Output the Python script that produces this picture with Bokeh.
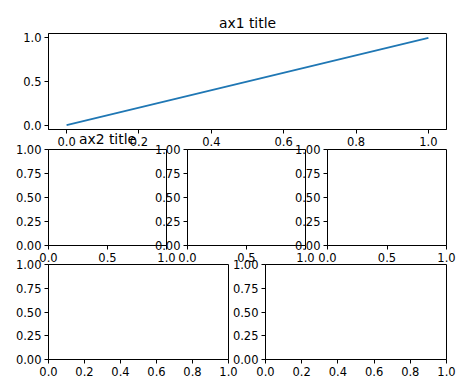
from bokeh.plotting import figure
from bokeh.models import Range1d, FixedTicker, PrintfTickFormatter, Title
from bokeh.layouts import column
from bokeh.embed import file_html
from bokeh.resources import INLINE

# ---- data ----
line_x = [0.0, 1.0]
line_y = [0.0, 1.0]
ax1_xticks = [0.0, 0.2, 0.4, 0.6, 0.8, 1.0]
ax1_yticks = [0.0, 0.5, 1.0]
small_xticks = [0.0, 0.5, 1.0]
wide_xticks = [0.0, 0.2, 0.4, 0.6, 0.8, 1.0]
unit_yticks = [0.0, 0.25, 0.5, 0.75, 1.0]
titles = ["ax1 title", "ax2 title"]

W, H = 466, 383
FONT = "DejaVu Sans"
TICK_SIZE = "11.5px"
TITLE_SIZE = "13.9px"


def make_fig(left, right, top, bottom, xr, yr, xticks, yticks, xfmt, yfmt, title=None):
    p = figure(width=W, height=H, output_backend="svg", toolbar_location=None,
               x_range=Range1d(*xr), y_range=Range1d(*yr),
               min_border_left=left, min_border_right=right,
               min_border_top=top, min_border_bottom=bottom,
               frame_align=False)
    p.background_fill_alpha = 0
    p.border_fill_alpha = 0
    p.outline_line_color = "black"
    p.outline_line_width = 1
    p.outline_line_alpha = 1
    p.xgrid.visible = False
    p.ygrid.visible = False
    p.xaxis.ticker = FixedTicker(ticks=xticks)
    p.yaxis.ticker = FixedTicker(ticks=yticks)
    p.xaxis.formatter = PrintfTickFormatter(format=xfmt)
    p.yaxis.formatter = PrintfTickFormatter(format=yfmt)
    for ax in p.axis:
        ax.axis_line_color = "black"
        ax.axis_line_width = 1
        ax.major_tick_line_color = "black"
        ax.major_tick_line_width = 1
        ax.major_tick_out = 4
        ax.major_tick_in = 0
        ax.minor_tick_line_color = None
        ax.major_label_text_font = FONT
        ax.major_label_text_font_size = TICK_SIZE
        ax.major_label_text_color = "black"
        ax.major_label_standoff = 3
    if title is not None:
        p.title = Title(text=title, align="center", text_font=FONT,
                        text_font_size=TITLE_SIZE, text_font_style="normal",
                        text_color="black", standoff=6)
    return p


ax1 = make_fig(48, 20, 33, 254, (-0.05, 1.05), (-0.05, 1.05),
               ax1_xticks, ax1_yticks, "%.1f", "%.1f", titles[0])
ax1.line(line_x, line_y, line_color="#1f77b4", line_width=1.7)

ax2 = make_fig(48, 300, 149, 138, (0, 1), (0, 1), small_xticks, unit_yticks, "%.1f", "%.2f", titles[1])
ax3 = make_fig(187, 161, 149, 138, (0, 1), (0, 1), small_xticks, unit_yticks, "%.1f", "%.2f")
ax4 = make_fig(327, 20, 149, 138, (0, 1), (0, 1), small_xticks, unit_yticks, "%.1f", "%.2f")
ax5 = make_fig(48, 238, 264, 24, (0, 1), (0, 1), wide_xticks, unit_yticks, "%.1f", "%.2f")
ax6 = make_fig(265, 20, 264, 24, (0, 1), (0, 1), wide_xticks, unit_yticks, "%.1f", "%.2f")

figs = [ax1, ax2, ax3, ax4, ax5, ax6]
for f in figs[1:]:
    f.margin = (-H, 0, 0, 0)

layout = column(*figs)
open("out.html", "w").write(file_html(layout, INLINE))
